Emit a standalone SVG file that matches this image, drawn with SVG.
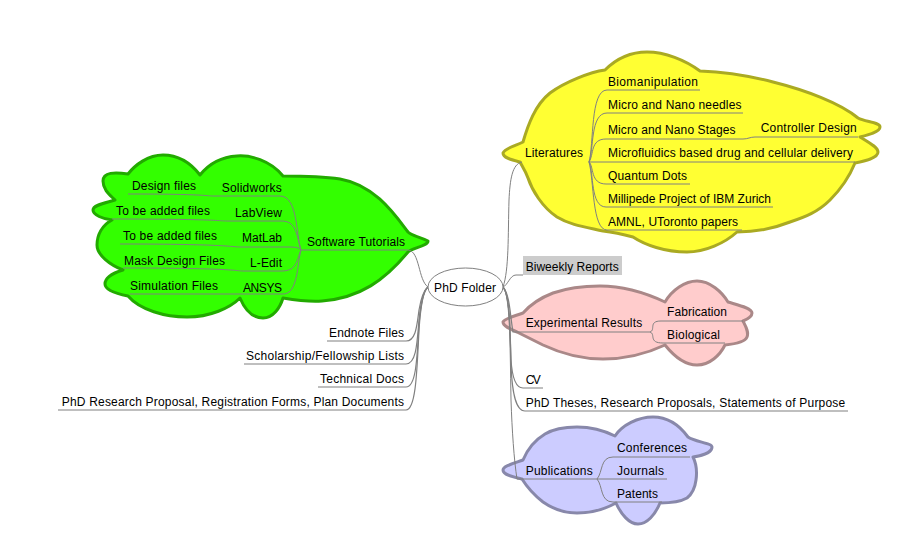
<svg xmlns="http://www.w3.org/2000/svg" width="908" height="550" viewBox="0 0 908 550">
<style>
text{font-family:"Liberation Sans",Arial,sans-serif;font-size:12px;fill:#000}
.cloud{stroke-width:3;stroke-linejoin:round}
.c{fill:none;stroke:#808080;stroke-width:1}
.t{fill:none;stroke:#808080;stroke-width:1.2}
</style>
<rect width="908" height="550" fill="#fff"/>
<g id="clouds">
<path id="cloud-software" class="cloud" fill="#33ff00" stroke="#22aa00" d="M428 241C418 236 412 236 408 232C395 215 375 185 340 179C320 176 300 176 283 176C270 160 250 155 237 156C220 157 208 165 200 175C190 162 178 155 163 155C148 155 135 165 128 174C115 172 103 172 103 181C103 190 110 195 115 200C105 203 93 205 93 210C93 215 103 219 112 220C102 225 97 235 97 245C97 255 110 265 123 270C113 273 105 278 105 284C105 290 118 294 128 296C140 310 165 317 187 317C210 317 230 308 240 298C245 310 253 318 263 318C273 318 280 308 283 298C295 300 310 302 322 301C360 298 385 280 408 252C412 248 428 246 428 241Z"/>
<path id="cloud-literatures" class="cloud" fill="#ffff33" stroke="#aaaa22" d="M503 153C505 148 515 146 523 142C528 125 535 105 550 93C565 82 590 72 605 70C617 58 632 52 647 52C665 52 685 60 700 71C725 72 750 76 773 82C805 90 840 103 858 118C865 122 880 122 880 127C880 132 868 135 860 137C868 142 878 147 878 152C878 158 865 161 855 163C848 180 838 192 830 200C818 212 805 217 790 222C775 228 755 232 737 232C725 243 705 252 687 252C665 252 645 245 633 237C622 234 612 232 603 231C585 227 570 225 557 217C542 207 532 190 528 178C525 170 522 166 520 162C512 160 503 158 503 153Z"/>
<path id="cloud-experimental" class="cloud" fill="#ffcccc" stroke="#aa8888" d="M503 322C505 318 515 316 523 313C530 305 540 298 553 293C570 287 585 286 600 286C625 286 648 294 665 302C672 290 685 281 697 281C710 281 722 292 728 302C738 305 752 308 752 313C752 317 748 319 743 321C746 327 749 332 747 337C745 342 735 344 725 345C720 355 710 365 697 365C684 365 673 355 665 345C648 353 625 359 603 359C580 359 560 353 543 345C533 340 525 336 517 332C510 329 503 326 503 322Z"/>
<path id="cloud-publications" class="cloud" fill="#ccccff" stroke="#8888aa" d="M503 470C503 466 515 463 523 460C528 448 535 440 545 434C555 428 565 427 577 427C592 427 605 431 615 436C622 425 638 417 653 417C668 417 680 426 688 437C695 442 712 443 712 447C712 453 700 456 693 457C697 465 697 473 696 480C695 488 692 494 687 498C680 502 670 503 660 503C655 515 647 524 638 524C629 524 621 514 616 503C605 509 591 513 577 513C565 513 553 509 543 502C534 495 527 487 522 479C513 477 503 475 503 470Z"/>
</g>
<g id="connectors">
<path class="c" d="M301 250H408C420 251 418 280 428 287"/>
<path class="t" d="M327 341H406C416 341 417 325 419 310C421 298 424 290 428 287"/>
<path class="t" d="M244 364H406C416 364 417 345 419 320C421 300 424 290 428 287"/>
<path class="t" d="M318 387H406C416 387 417 360 419 325C421 300 424 290 428 287"/>
<path class="t" d="M58 410H406C416 410 417 370 419 330C421 300 424 290 428 287"/>
<path class="c" d="M522 162C512 164 510 180 509 200C508 235 509 270 503 287"/>
<path class="c" d="M523 275H516C510 275 508 285 503 287"/>
<path class="t" d="M503 287C510 295 510 315 513 332H650"/>
<path class="t" d="M503 287C510 295 510 330 511 360C512 375 515 388 523 388H543"/>
<path class="t" d="M503 287C510 295 510 330 511 365C512 390 515 411 525 411H848"/>
<path class="c" d="M503 287C510 295 510 340 511 400C512 430 514 460 517 479H597"/>
<path class="c" d="M301 250C296 235 298 196 280 196H213C207 196 205 194 128 194"/>
<path class="c" d="M301 250C297 240 298 221 282 221H227C220 221 215 219 112 219"/>
<path class="c" d="M301 250C299 248 296 247 290 247H240C232 247 228 244 120 244"/>
<path class="c" d="M301 250C297 258 298 271 282 271H243C236 271 234 268 123 268"/>
<path class="c" d="M301 250C297 265 298 294 283 294H130"/>
<path class="c" d="M589 162C594 145 590 90 607 90H700"/>
<path class="c" d="M589 162C594 150 590 113 607 113H743"/>
<path class="c" d="M589 162C594 155 590 139 606 139H743C748 139 750 137 755 137H858"/>
<path class="c" d="M589 162H855"/>
<path class="c" d="M589 162C594 166 590 184 606 184H690"/>
<path class="c" d="M589 162C594 172 590 207 606 207H773"/>
<path class="c" d="M589 162C594 180 592 230 607 230H742"/>
<path class="c" d="M650 332C656 330 648 321 661 321H743"/>
<path class="c" d="M650 332C656 334 648 343 663 343H725"/>
<path class="c" d="M597 479C603 472 600 457 613 457H690"/>
<path class="c" d="M597 479H667"/>
<path class="c" d="M597 479C603 486 600 502 613 502H662"/>
</g>
<g id="root"><ellipse cx="465.5" cy="287" rx="37.5" ry="19" fill="#fff" stroke="#808080"/><text x="434" y="292" textLength="62">PhD Folder</text></g>
<g id="software-tutorials"><text x="307" y="246" textLength="98">Software Tutorials</text></g>
<g id="solidworks"><text x="221.7" y="192" textLength="60">Solidworks</text></g>
<g id="design-files"><text x="132" y="190" textLength="64">Design files</text></g>
<g id="labview"><text x="235" y="217" textLength="47">LabView</text></g>
<g id="to-be-added-1"><text x="116" y="215" textLength="94">To be added files</text></g>
<g id="matlab"><text x="242" y="242" textLength="40">MatLab</text></g>
<g id="to-be-added-2"><text x="123" y="240" textLength="94">To be added files</text></g>
<g id="l-edit"><text x="250" y="267" textLength="32">L-Edit</text></g>
<g id="mask"><text x="124" y="265" textLength="101">Mask Design Files</text></g>
<g id="ansys"><text x="243" y="292" textLength="39">ANSYS</text></g>
<g id="simulation"><text x="130" y="290" textLength="88">Simulation Files</text></g>
<g id="endnote"><text x="329" y="337" textLength="75">Endnote Files</text></g>
<g id="scholarship"><text x="246" y="360" textLength="158">Scholarship/Fellowship Lists</text></g>
<g id="technical"><text x="320" y="383" textLength="84">Technical Docs</text></g>
<g id="proposal"><text x="61.7" y="406" textLength="342.3">PhD Research Proposal, Registration Forms, Plan Documents</text></g>
<g id="literatures"><text x="525" y="157" textLength="58">Literatures</text></g>
<g id="biomanipulation"><text x="608" y="86" textLength="90">Biomanipulation</text></g>
<g id="needles"><text x="608" y="109" textLength="133.5">Micro and Nano needles</text></g>
<g id="stages"><text x="608" y="134" textLength="127.5">Micro and Nano Stages</text></g>
<g id="controller"><text x="760.7" y="132" textLength="96">Controller Design</text></g>
<g id="microfluidics"><text x="608" y="157" textLength="245">Microfluidics based drug and cellular delivery</text></g>
<g id="quantum"><text x="608" y="180" textLength="79">Quantum Dots</text></g>
<g id="millipede"><text x="608" y="203" textLength="163">Millipede Project of IBM Zurich</text></g>
<g id="amnl"><text x="608" y="226" textLength="130">AMNL, UToronto papers</text></g>
<g id="biweekly"><rect x="523" y="256" width="99" height="19" fill="#cccccc"/><text x="525.7" y="271" textLength="93">Biweekly Reports</text></g>
<g id="experimental"><text x="525.7" y="327" textLength="116.5">Experimental Results</text></g>
<g id="fabrication"><text x="667" y="316" textLength="60">Fabrication</text></g>
<g id="biological"><text x="667" y="339" textLength="53">Biological</text></g>
<g id="cv"><text x="525.7" y="384" textLength="15">CV</text></g>
<g id="theses"><text x="525.7" y="407" textLength="319.5">PhD Theses, Research Proposals, Statements of Purpose</text></g>
<g id="publications"><text x="525.7" y="475" textLength="67">Publications</text></g>
<g id="conferences"><text x="617" y="452" textLength="70">Conferences</text></g>
<g id="journals"><text x="617" y="475" textLength="47">Journals</text></g>
<g id="patents"><text x="617" y="498" textLength="41">Patents</text></g>
</svg>
